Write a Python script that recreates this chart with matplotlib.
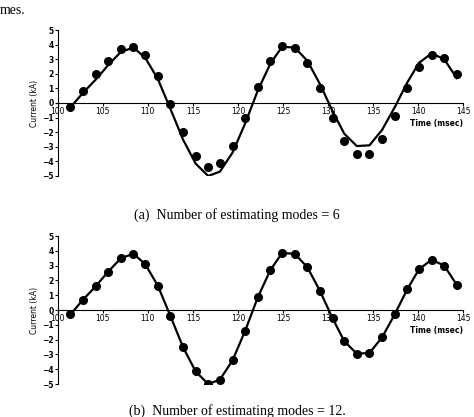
import matplotlib
matplotlib.use("Agg")
import matplotlib.pyplot as plt

t = [101.4,102.8,104.2,105.6,107.0,108.4,109.7,111.1,112.5,113.9,115.3,116.7,118.0,119.4,120.8,122.2,123.6,124.9,126.3,127.7,129.1,130.5,131.8,133.2,134.6,136.0,137.4,138.8,140.1,141.5,142.9,144.3]
est6 = [-0.3,0.8,2.0,2.9,3.7,3.85,3.3,1.85,-0.1,-2.0,-3.6,-4.4,-4.1,-2.95,-1.0,1.1,2.9,3.9,3.75,2.75,1.0,-1.0,-2.6,-3.5,-3.5,-2.45,-0.9,1.0,2.5,3.3,3.05,2.0]
est12 = [-0.3,0.7,1.6,2.6,3.5,3.8,3.1,1.65,-0.4,-2.5,-4.15,-5.0,-4.7,-3.4,-1.4,0.85,2.7,3.85,3.8,2.9,1.3,-0.55,-2.1,-2.95,-2.9,-1.85,-0.3,1.4,2.75,3.4,3.0,1.7]
yticks = [-5,-4,-3,-2,-1,0,1,2,3,4,5]
xticks = [100,105,110,115,120,125,130,135,140,145]

fig = plt.figure(figsize=(4.74,4.17), dpi=100)
fig.text(0.0, 0.99, "mes.", family="Liberation Serif", fontsize=10, va="top")

def panel(rect, est, caption, capy):
    ax = fig.add_axes(rect)
    ax.plot(t, est12, color="black", lw=1.6)
    ax.plot(t, est, "o", color="black", ms=5.5)
    ax.set_xlim(100,145); ax.set_ylim(-5,5)
    ax.set_xticks(xticks); ax.set_yticks(yticks)
    ax.tick_params(labelsize=5.5, length=2, pad=1)
    for lab in ax.get_xticklabels()+ax.get_yticklabels():
        lab.set_fontweight("bold")
    ax.spines["top"].set_visible(False); ax.spines["right"].set_visible(False)
    ax.spines["bottom"].set_position(("data",0))
    ax.set_ylabel("Current (kA)", fontsize=5.5, labelpad=2)
    ax.text(145, -1.4, "Time (msec)", fontsize=5.5, fontweight="bold", ha="right", va="center")
    ax.patch.set_alpha(0)
    fig.text(0.5, capy, caption, family="Liberation Serif", fontsize=10, ha="center")
    return ax

panel([0.122,0.578,0.855,0.35], est6, "(a)  Number of estimating modes = 6", 0.475)
panel([0.122,0.079,0.855,0.355], est12, "(b)  Number of estimating modes = 12.", 0.005)
fig.savefig("out.png", dpi=100)
